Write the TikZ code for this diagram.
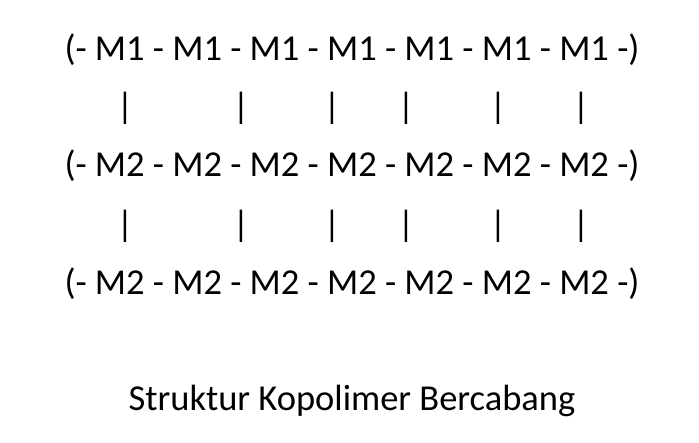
\documentclass[tikz,border=0pt]{standalone}
\usepackage{fontspec}
\setmainfont{Carlito}
\usetikzlibrary{positioning}
\tikzset{
	chain/.style={anchor=base, inner sep=0pt, font=\fontsize{36.5}{40}\selectfont},
	bond/.style={anchor=base, inner sep=0pt, font=\fontsize{36.5}{40}\selectfont},
}
\begin{document}
\begin{tikzpicture}[x=1pt, y=-1pt]
			%%%%% START %%%%%
			
			\useasboundingbox[fill=white] (0, 0) rectangle (699, 443);
			
			\node[chain] (row1) at (352, 61) {(- M1 - M1 - M1 - M1 - M1 - M1 - M1 -)};
			\node[chain] (row2) at (352, 177) {(- M2 - M2 - M2 - M2 - M2 - M2 - M2 -)};
			\node[chain] (row3) at (352, 295) {(- M2 - M2 - M2 - M2 - M2 - M2 - M2 -)};
			
			\foreach \x [count=\i] in {125, 241, 332, 406, 498, 581} {
				\node[bond] (upper\i) at (\x, 119) {|};
				\node[bond] (lower\i) at (\x, 237) {|};
			}
			
			\node[chain] (title) at (352, 411) {Struktur Kopolimer Bercabang};
			
			%%%%% END %%%%%
\end{tikzpicture}
\end{document}
